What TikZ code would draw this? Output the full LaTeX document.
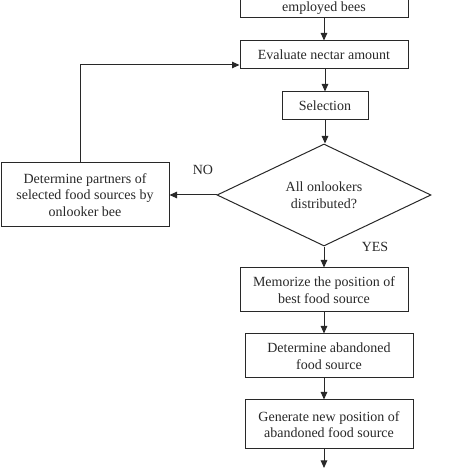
\documentclass[tikz,border=0pt]{standalone}
\usepackage{fontspec}
\setmainfont{Liberation Serif}
\usepackage{tikz}
\usetikzlibrary{shapes.geometric, arrows.meta, positioning, calc}
\definecolor{inkgray}{RGB}{40, 40, 40}

\begin{document}
\begin{tikzpicture}[x=1pt, y=1pt,
    every node/.style={text=inkgray, font=\fontsize{14}{16.5}\selectfont},
    stepbox/.style={draw=inkgray, line width=1pt, rectangle, align=center,
        minimum width=168pt, inner sep=2pt},
    decide/.style={draw=inkgray, line width=1pt, diamond, align=center,
        minimum width=214pt, minimum height=102pt, inner sep=0pt, aspect=2.1},
    flow/.style={draw=inkgray, line width=1pt,
        -{Triangle[length=7.5pt, width=6.5pt]}}]
    \useasboundingbox (0,0) rectangle (474,474);
    \clip (0,0) rectangle (474,474);

    % Main column
    \node[stepbox, anchor=base, inner ysep=0pt, text height=42pt, text depth=6pt]
        (emp) at (324,462) {employed bees};
    \node[stepbox, minimum height=28pt] (eval) at (324,419) {Evaluate nectar amount};
    \node[stepbox, minimum width=86pt, minimum height=28pt] (sel) at (325,368) {Selection};
    \node[decide] (dist) at (324,279) {All onlookers\\distributed?};
    \node[stepbox, minimum height=44pt] (mem) at (324,184)
        {Memorize the position of\\best food source};
    \node[stepbox, minimum height=44pt] (aband) at (329,118)
        {Determine abandoned\\food source};
    \node[stepbox, minimum height=49pt] (gen) at (329,49.5)
        {Generate new position of\\abandoned food source};
    \coordinate (next) at (324,6);

    % Side branch
    \node[stepbox, minimum height=64pt] (partner) at (85,279)
        {Determine partners of\\selected food sources by\\onlooker bee};

    % Arrows
    \draw[flow] (emp) -- (eval);
    \draw[flow] (eval.south -| sel.south) -- (sel);
    \draw[flow] (sel) -- (dist.north -| sel.south);
    \draw[flow] (dist) -- (partner);
    \draw[flow] ([xshift=-5pt]partner.north) |- ([yshift=-10pt]eval.west);
    \draw[flow] (dist) -- (mem);
    \draw[flow] (mem) -- (mem.south |- aband.north);
    \draw[flow] (mem.south |- aband.south) -- (mem.south |- gen.north);
    \draw[flow] (mem.south |- gen.south) -- (next);

    % Branch labels
    \node (no) at (203,304) {NO};
    \node (yes) at (375,227) {YES};
\end{tikzpicture}
\end{document}
